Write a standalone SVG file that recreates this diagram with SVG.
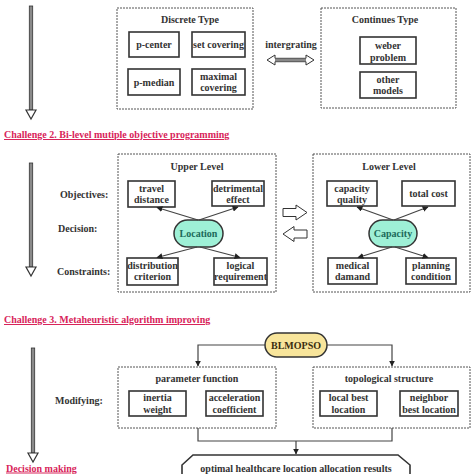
<svg xmlns="http://www.w3.org/2000/svg" width="474" height="474" viewBox="0 0 474 474">
<defs>
<style>
text{font-family:"Liberation Serif","Times New Roman",serif;font-weight:bold;font-size:10px;fill:#333;text-anchor:middle}
.lbl{text-anchor:start}
.red{fill:#d8245a;text-decoration:underline;text-anchor:start}
.box{fill:#fff;stroke:#333;stroke-width:1.6}
.dash{fill:none;stroke:#555;stroke-width:1;stroke-dasharray:2 1}
.shaft{fill:#8a8a8a;stroke:#333;stroke-width:0.8}
.head{fill:#fff;stroke:#333;stroke-width:1.2}
.con{fill:none;stroke:#444;stroke-width:1.2}
.loc{fill:#9ef0d6;stroke:#333;stroke-width:1.5}
.bl{fill:#f8e59b;stroke:#333;stroke-width:1.5}
</style>
<marker id="ah" viewBox="0 0 10 10" refX="9" refY="5" markerWidth="6" markerHeight="6" orient="auto" markerUnits="userSpaceOnUse">
<path d="M0,0 L10,5 L0,10 z" fill="#222"/>
</marker>
</defs>
<rect width="474" height="474" fill="#fff"/>

<!-- left flow arrows -->
<g id="flow-arrows">
<rect class="shaft" x="29.3" y="6" width="3.4" height="104"/>
<polygon class="head" points="26,110 36,110 31,119"/>
<rect class="shaft" x="29.3" y="163" width="3.4" height="104"/>
<polygon class="head" points="26,267 36,267 31,276"/>
<rect class="shaft" x="31.3" y="348" width="3.4" height="105"/>
<polygon class="head" points="28,453 38,453 33,462"/>
</g>

<!-- Section 1 -->
<g id="discrete-type">
<rect class="dash" x="117" y="8" width="136" height="101"/>
<text x="190" y="23">Discrete Type</text>
</g>
<g id="p-center"><rect class="box" x="129" y="32" width="50" height="25"/><text x="154" y="48">p-center</text></g>
<g id="set-covering"><rect class="box" x="192" y="32" width="53" height="25"/><text x="218.5" y="48">set covering</text></g>
<g id="p-median"><rect class="box" x="128" y="69" width="52" height="26"/><text x="154" y="85.5">p-median</text></g>
<g id="maximal-covering"><rect class="box" x="192" y="69" width="53" height="26"/><text x="218.5" y="79.5">maximal</text><text x="218.5" y="91">covering</text></g>

<g id="intergrating">
<text x="291" y="47.5">intergrating</text>
<polygon points="267,60 275,55 275,58.3 306,58.3 306,55 314,60 306,65 306,61.7 275,61.7 275,65" fill="#fff" stroke="#333" stroke-width="1"/>
<rect x="275" y="58.8" width="31" height="2.4" fill="#888"/>
</g>

<g id="continues-type">
<rect class="dash" x="321" y="8" width="135" height="100"/>
<text x="385" y="23">Continues Type</text>
</g>
<g id="weber-problem"><rect class="box" x="360" y="37" width="56" height="27"/><text x="388" y="48.5">weber</text><text x="388" y="60.5">problem</text></g>
<g id="other-models"><rect class="box" x="360" y="72" width="56" height="26"/><text x="388" y="82.5">other</text><text x="388" y="94">models</text></g>

<!-- Section 2 -->
<text class="red" x="4" y="138">Challenge 2. Bi-level mutiple objective programming</text>
<text class="lbl" x="60" y="197.5">Objectives:</text>
<text class="lbl" x="58" y="231.5">Decision:</text>
<text class="lbl" x="57" y="274.5">Constraints:</text>

<g id="upper-level">
<rect class="dash" x="118" y="154" width="158" height="138"/>
<text x="197" y="170">Upper Level</text>
</g>
<g id="travel-distance"><rect class="box" x="128" y="181" width="47" height="26"/><text x="151.5" y="191.8">travel</text><text x="151.5" y="203">distance</text></g>
<g id="detrimental-effect"><rect class="box" x="212" y="181" width="52" height="25"/><text x="238" y="191.8">detrimental</text><text x="238" y="203">effect</text></g>
<g id="location"><rect class="loc" x="174" y="220" width="49" height="27" rx="13.5"/><text x="198.5" y="237" style="fill:#1c6a5a">Location</text></g>
<g id="distribution-criterion"><rect class="box" x="127" y="258" width="51" height="27"/><text x="152.5" y="268.5">distribution</text><text x="152.5" y="280">criterion</text></g>
<g id="logical-requirement"><rect class="box" x="214" y="258" width="53" height="27"/><text x="240.5" y="268.5">logical</text><text x="240.5" y="280">requirement</text></g>

<g id="level-exchange">
<polygon points="283,208.5 296,208.5 296,205 307,212.5 296,220 296,216.5 283,216.5" fill="#fff" stroke="#333" stroke-width="1"/>
<polygon points="307,230 294,230 294,226.5 283,234 294,241.5 294,238 307,238" fill="#fff" stroke="#333" stroke-width="1"/>
</g>

<g id="lower-level">
<rect class="dash" x="313" y="154" width="157" height="138"/>
<text x="389" y="170">Lower Level</text>
</g>
<g id="capacity-quality"><rect class="box" x="327" y="181" width="50" height="25"/><text x="352" y="191.8">capacity</text><text x="352" y="203">quality</text></g>
<g id="total-cost"><rect class="box" x="402" y="181" width="53" height="25"/><text x="428.5" y="197">total cost</text></g>
<g id="capacity"><rect class="loc" x="369" y="220" width="48" height="27" rx="13.5"/><text x="393" y="237" style="fill:#1c6a5a">Capacity</text></g>
<g id="medical-damand"><rect class="box" x="328" y="258" width="49" height="26"/><text x="352.5" y="268.5">medical</text><text x="352.5" y="280">damand</text></g>
<g id="planning-condition"><rect class="box" x="406" y="258" width="50" height="26"/><text x="431" y="268.5">planning</text><text x="431" y="280">condition</text></g>

<!-- Section 3 -->
<text class="red" x="4" y="323">Challenge 3. Metaheuristic algorithm improving</text>
<text class="lbl" x="55" y="403.5">Modifying:</text>

<g id="blmopso"><rect class="bl" x="265" y="333" width="62" height="24" rx="12"/><text x="296" y="348.5" style="fill:#3a2e10">BLMOPSO</text></g>

<g id="parameter-function">
<rect class="dash" x="118" y="367" width="158" height="61"/>
<text x="197" y="381.5">parameter function</text>
</g>
<g id="inertia-weight"><rect class="box" x="129" y="391" width="57" height="25"/><text x="157.5" y="401">inertia</text><text x="157.5" y="412.5">weight</text></g>
<g id="acceleration-coefficient"><rect class="box" x="206" y="391" width="57" height="25"/><text x="234.5" y="401">acceleration</text><text x="234.5" y="412.5">coefficient</text></g>

<g id="topological-structure">
<rect class="dash" x="313" y="367" width="157" height="61"/>
<text x="389" y="381.5">topological structure</text>
</g>
<g id="local-best-location"><rect class="box" x="320" y="391" width="57" height="25"/><text x="348.5" y="401">local best</text><text x="348.5" y="412.5">location</text></g>
<g id="neighbor-best-location"><rect class="box" x="400" y="391" width="58" height="25"/><text x="429" y="401">neighbor</text><text x="429" y="412.5">best location</text></g>

<g id="optimal-results">
<polygon class="box" points="193,455 398,455 410,465 410,484 182,484 182,465"/>
<text x="296" y="471.5">optimal healthcare location allocation results</text>
</g>
<text class="red" x="6" y="471.5">Decision making</text>

<!-- connectors -->
<g id="connectors">
<line class="con" x1="198" y1="220" x2="157" y2="207.5" marker-end="url(#ah)"/>
<line class="con" x1="199" y1="220" x2="238" y2="207" marker-end="url(#ah)"/>
<line class="con" x1="197" y1="247" x2="157" y2="257.5" marker-end="url(#ah)"/>
<line class="con" x1="200" y1="247" x2="240" y2="257.5" marker-end="url(#ah)"/>
<line class="con" x1="393" y1="220" x2="357" y2="207" marker-end="url(#ah)"/>
<line class="con" x1="394" y1="220" x2="428" y2="207" marker-end="url(#ah)"/>
<line class="con" x1="392" y1="247" x2="358" y2="257.5" marker-end="url(#ah)"/>
<line class="con" x1="395" y1="247" x2="428" y2="257.5" marker-end="url(#ah)"/>
<path class="con" d="M265,345 H198 V366" marker-end="url(#ah)"/>
<path class="con" d="M327,345 H392 V366" marker-end="url(#ah)"/>
<path class="con" d="M198,428 V441 H392 V428"/>
<path class="con" d="M296,441 V454" marker-end="url(#ah)"/>
</g>
</svg>
